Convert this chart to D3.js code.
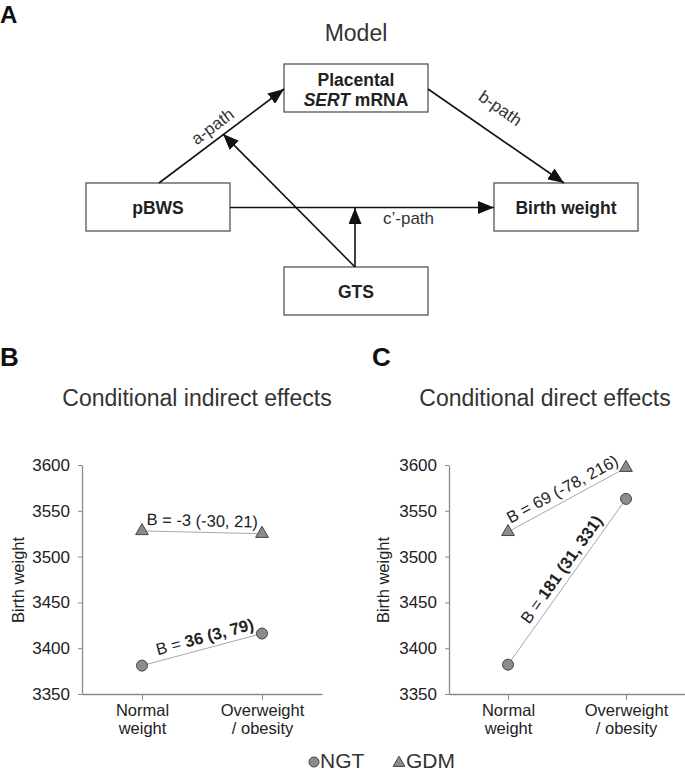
<!DOCTYPE html>
<html lang="en">
<head>
<meta charset="utf-8">
<title>Moderated mediation: pBWS, SERT mRNA, birth weight</title>
<script src="https://cdn.jsdelivr.net/npm/d3@7"></script>
<style>
  body { margin: 0; background: #fff; }
  svg { font-family: "Liberation Sans", Arial, sans-serif; }
  .axis { font-family: "Liberation Sans", Arial, sans-serif; }
  .axis path, .axis line { stroke: #8a8a8a; }
  .axis text { font-size: 17px; fill: #222; }
</style>
</head>
<body>
<script>
// ---- data ----
var categories = ["Normal weight", "Overweight / obesity"];
var catLines = [["Normal", "weight"], ["Overweight", "/ obesity"]];
var yTicks = [3350, 3400, 3450, 3500, 3550, 3600];
var groups = ["NGT", "GDM"];

// conditional indirect effects (panel B)
var indirectNGT = [3381, 3416];
var indirectGDM = [3528, 3525];
var indirectLabel = { NGT: ["B = ", "36 (3, 79)"], GDM: ["B = -3 (-30, 21)", ""] };

// conditional direct effects (panel C)
var directNGT = [3382, 3563];
var directGDM = [3527, 3597];
var directLabel = { NGT: ["B = ", "181 (31, 331)"], GDM: ["B = 69 (-78, 216)", ""] };

var W = 685, H = 771;
var svg = d3.select("body").append("svg").attr("width", W).attr("height", H);

// ---- panel A: model diagram ----
svg.append("text").attr("x", 0).attr("y", 23).style("font-size", "24px").style("font-weight", "bold").attr("fill", "#111").text("A");
svg.append("text").attr("x", 356).attr("y", 41).attr("text-anchor", "middle").style("font-size", "23px").attr("fill", "#333").text("Model");

var defs = svg.append("defs");
defs.append("marker").attr("id", "arr").attr("viewBox", "0 0 16 13")
  .attr("refX", 16).attr("refY", 6.5).attr("markerWidth", 16).attr("markerHeight", 13)
  .attr("markerUnits", "userSpaceOnUse").attr("orient", "auto")
  .append("path").attr("d", "M0,0L16,6.5L0,13Z").attr("fill", "#111");

var boxes = [
  { id: "med", x: 284, y: 64, w: 144, h: 48 },
  { id: "x", x: 86, y: 183, w: 144, h: 48 },
  { id: "y", x: 494, y: 183, w: 144, h: 48 },
  { id: "w", x: 284, y: 267, w: 144, h: 48 }
];
svg.selectAll("rect.box").data(boxes).enter().append("rect").attr("class", "box")
  .attr("x", function(d){ return d.x; }).attr("y", function(d){ return d.y; })
  .attr("width", function(d){ return d.w; }).attr("height", function(d){ return d.h; })
  .attr("fill", "#fff").attr("stroke", "#555").attr("stroke-width", 1.3);

function boldText(x, y, s) {
  return svg.append("text").attr("x", x).attr("y", y).attr("text-anchor", "middle")
    .style("font-size", "17.5px").style("font-weight", "bold").attr("fill", "#222").text(s);
}
boldText(356, 86, "Placental");
var sert = svg.append("text").attr("x", 356).attr("y", 106).attr("text-anchor", "middle")
  .style("font-size", "17.5px").style("font-weight", "bold").attr("fill", "#222");
sert.append("tspan").style("font-style", "italic").text("SERT");
sert.append("tspan").text(" mRNA");
boldText(158, 214, "pBWS");
boldText(566, 214, "Birth weight");
boldText(356, 298, "GTS");

var arrows = [
  [159, 183, 284, 89],
  [428, 89, 564, 183],
  [230, 207.5, 494, 207.5],
  [355, 267, 223, 134],
  [355, 267, 355, 208]
];
svg.selectAll("line.arrow").data(arrows).enter().append("line").attr("class", "arrow")
  .attr("x1", function(d){ return d[0]; }).attr("y1", function(d){ return d[1]; })
  .attr("x2", function(d){ return d[2]; }).attr("y2", function(d){ return d[3]; })
  .attr("stroke", "#111").attr("stroke-width", 1.6).attr("marker-end", "url(#arr)");

function pathLabel(x, y, ang, s) {
  svg.append("text").attr("transform", "translate(" + x + "," + y + ") rotate(" + ang + ")")
    .attr("text-anchor", "middle").style("font-size", "17px").attr("fill", "#333").text(s);
}
pathLabel(216, 131, -37, "a-path");
pathLabel(497, 113, 35, "b-path");
svg.append("text").attr("x", 383).attr("y", 224).style("font-size", "17px").attr("fill", "#333").text("c\u2019-path");

// ---- panels B and C ----
function drawPanel(opt) {
  var y = d3.scaleLinear().domain([3350, 3600]).range([694, 465]);
  var x = d3.scalePoint().domain(categories).range([opt.x0, opt.x1]).padding(0.5);
  var g = svg.append("g");

  g.append("text").attr("x", opt.lx).attr("y", 366).style("font-size", "26px").style("font-weight", "bold").attr("fill", "#111").text(opt.letter);
  g.append("text").attr("x", opt.tx).attr("y", 406).attr("text-anchor", "middle")
    .style("font-size", "23px").attr("fill", "#333").text(opt.title);

  g.append("g").attr("class", "axis").attr("transform", "translate(" + opt.x0 + ",0)")
    .call(d3.axisLeft(y).tickValues(yTicks).tickFormat(d3.format("d")).tickSize(4).tickSizeOuter(0).tickPadding(8))
    .select(".domain").attr("stroke-width", 1.3);
  var xa = g.append("g").attr("class", "axis").attr("transform", "translate(0,694)")
    .call(d3.axisBottom(x).tickSize(6).tickSizeOuter(0).tickFormat(""));
  xa.select(".domain").attr("stroke-width", 1.3);
  xa.selectAll(".tick").each(function(d, i) {
    var t = d3.select(this).append("text").attr("fill", "#222").attr("y", 22).style("font-size", "16.5px");
    catLines[i].forEach(function(s, k) {
      t.append("tspan").attr("x", 0).attr("dy", k === 0 ? 0 : 18).text(s);
    });
  });

  g.append("text").attr("transform", "translate(" + opt.yl + ",580) rotate(-90)")
    .attr("text-anchor", "middle").style("font-size", "16.5px").attr("fill", "#222").text("Birth weight");

  var series = [{ name: "GDM", v: opt.gdm }, { name: "NGT", v: opt.ngt }];
  series.forEach(function(s) {
    var pts = s.v.map(function(v, i){ return [x(categories[i]), y(v)]; });
    g.append("line").attr("x1", pts[0][0]).attr("y1", pts[0][1]).attr("x2", pts[1][0]).attr("y2", pts[1][1])
      .attr("stroke", "#a6a6a6").attr("stroke-width", 1);

    // label along line
    var dx = pts[1][0] - pts[0][0], dy = pts[1][1] - pts[0][1];
    var len = Math.sqrt(dx * dx + dy * dy);
    var ang = Math.atan2(dy, dx) * 180 / Math.PI;
    var nx = dy / len, ny = -dx / len;
    var off = opt.off[s.name];
    var cx = (pts[0][0] + pts[1][0]) / 2 + nx * off[0] + dx / len * off[1];
    var cy = (pts[0][1] + pts[1][1]) / 2 + ny * off[0] + dy / len * off[1];
    var lab = opt.labels[s.name];
    var t = g.append("text").attr("transform", "translate(" + cx + "," + cy + ") rotate(" + ang + ")")
      .attr("text-anchor", "middle").style("font-size", "16.5px").attr("fill", "#222");
    t.append("tspan").text(lab[0]);
    if (lab[1]) t.append("tspan").style("font-weight", "bold").text(lab[1]);

    pts.forEach(function(p) {
      if (s.name === "NGT") {
        g.append("circle").attr("cx", p[0]).attr("cy", p[1]).attr("r", 5.5)
          .attr("fill", "#8c8c8c").attr("stroke", "#444").attr("stroke-width", 1);
      } else {
        g.append("path").attr("transform", "translate(" + p[0] + "," + p[1] + ")")
          .attr("d", d3.symbol().type(d3.symbolTriangle).size(70)())
          .attr("fill", "#8c8c8c").attr("stroke", "#444").attr("stroke-width", 1);
      }
    });
  });
}

drawPanel({ letter: "B", lx: 0, title: "Conditional indirect effects", tx: 197,
  x0: 82, x1: 322, yl: 24, ngt: indirectNGT, gdm: indirectGDM, labels: indirectLabel,
  off: { GDM: [6, 0], NGT: [6, 6] } });
drawPanel({ letter: "C", lx: 372, title: "Conditional direct effects", tx: 545,
  x0: 449, x1: 685, yl: 389, ngt: directNGT, gdm: directGDM, labels: directLabel,
  off: { GDM: [6, 1], NGT: [6, 7] } });

// ---- legend ----
var leg = svg.append("g");
leg.append("circle").attr("cx", 314).attr("cy", 762).attr("r", 5).attr("fill", "#8c8c8c").attr("stroke", "#444");
leg.append("text").attr("x", 320).attr("y", 768).style("font-size", "21px").attr("fill", "#333").text(groups[0]);
leg.append("path").attr("transform", "translate(399,763)").attr("d", d3.symbol().type(d3.symbolTriangle).size(60)())
  .attr("fill", "#8c8c8c").attr("stroke", "#444");
leg.append("text").attr("x", 406).attr("y", 768).style("font-size", "21px").attr("fill", "#333").text(groups[1]);
</script>
</body>
</html>
